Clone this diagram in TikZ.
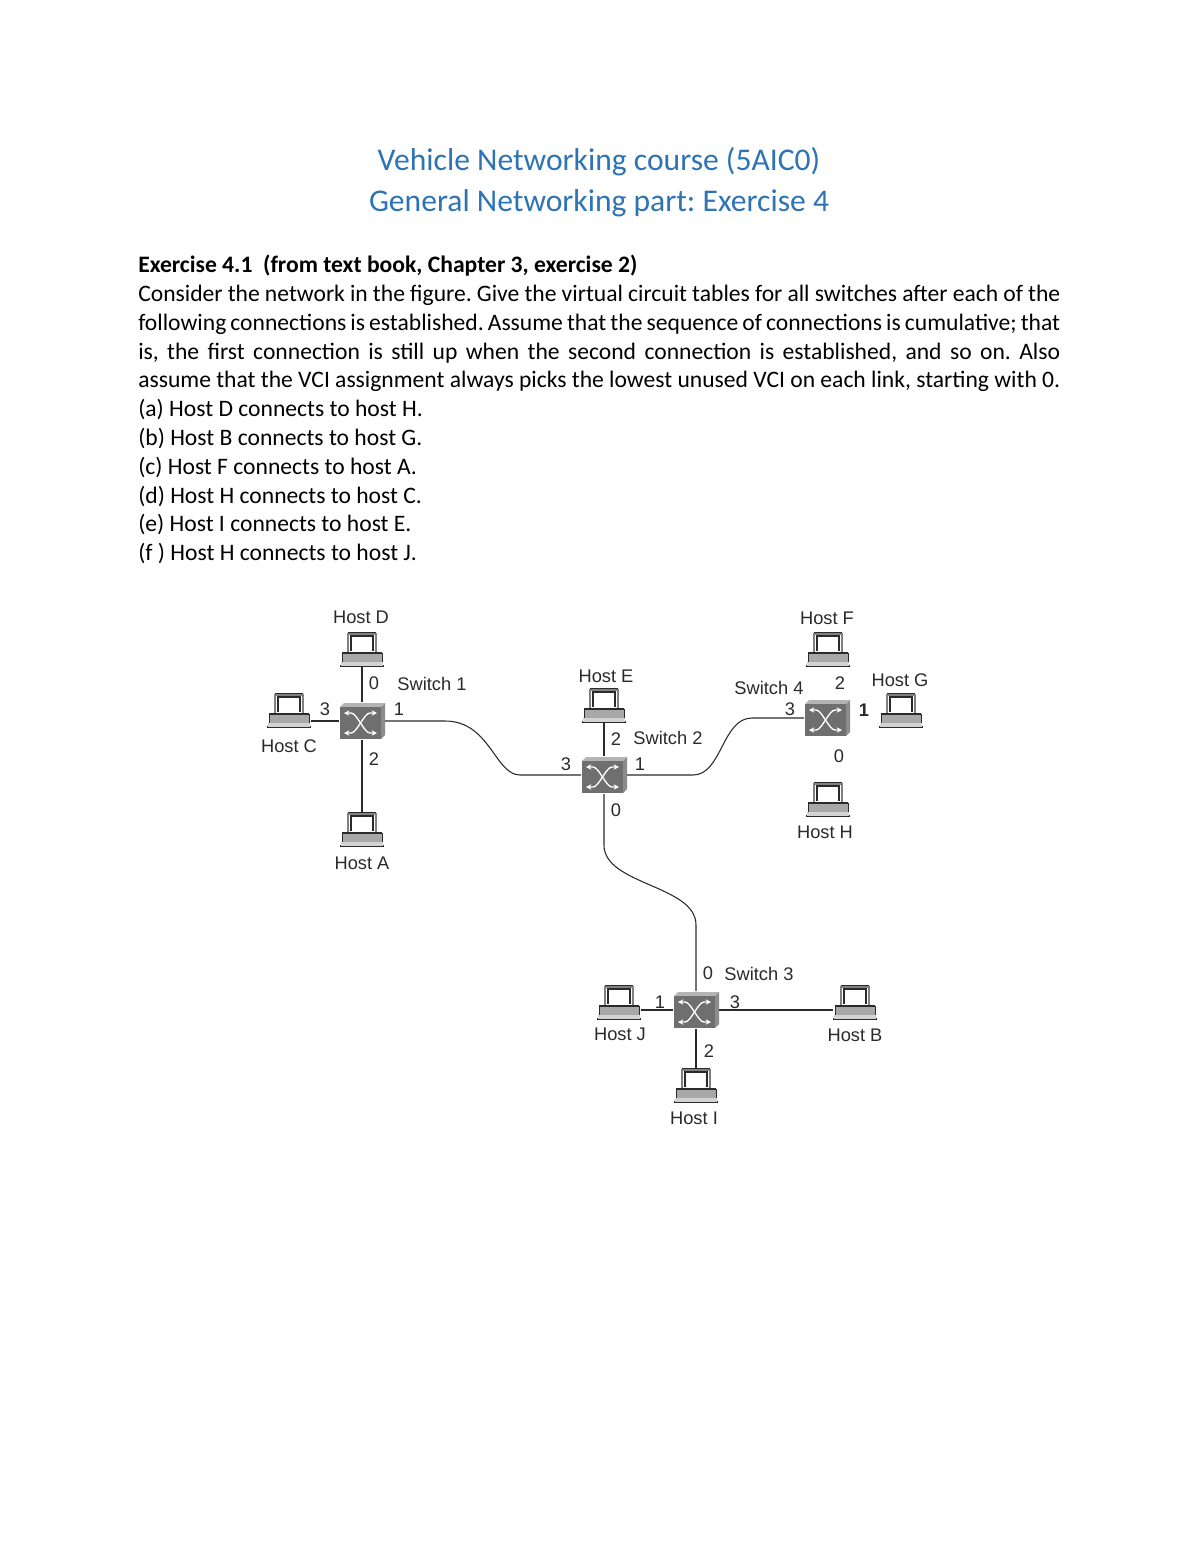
\documentclass[tikz,border=0pt]{standalone}
\usepackage{fontspec}
\setmainfont{Carlito}
\newfontfamily\figfont{Liberation Sans}
\usetikzlibrary{arrows.meta}
\definecolor{titleblue}{HTML}{2E74B5}
\definecolor{figink}{HTML}{2A2A2A}
\definecolor{swfront}{HTML}{6F6F6F}
\definecolor{swtop}{HTML}{B4B4B4}
\definecolor{swside}{HTML}{8C8C8C}
\definecolor{hostbase}{HTML}{A8A8A8}
\frenchspacing
\tikzset{
  x=0.75pt, y=-0.75pt,
  titletext/.style={text=titleblue,font=\fontsize{23.7}{28}\selectfont,inner sep=0pt,anchor=center},
  figlabel/.style={text=figink,font=\figfont\fontsize{13.7}{16}\selectfont,inner sep=0pt,anchor=center},
  link/.style={draw=figink,line width=1.05pt},
  thinlink/.style={draw=figink,line width=0.8pt},
  anchorbox/.style={inner sep=0pt,outer sep=0pt,draw=none,fill=none},
  host/.pic={
    \fill[white] (-13,1) rectangle (13,19);
    \draw[gray,line width=0.8pt] (-14,20) -- (-14,2) -- (14,2) -- (14,20);
    \draw[figink,line width=1.2pt] (-14,0.5) -- (14,0.5);
    \draw[figink,line width=0.9pt] (-11,19) -- (-11,4) -- (11,4) -- (11,19);
    \fill[hostbase,draw=figink,line width=0.7pt] (-20,21) rectangle (20,30);
    \draw[figink,line width=1.3pt] (-20,21) -- (20,21);
    \draw[figink,line width=0.9pt] (-22,34) -- (22,34);
    \fill[hostbase!50] (-21,30) rectangle (21,33.5);
    \node[anchorbox,minimum width=44*0.75pt,minimum height=35*0.75pt] (-n) at (0,17.5) {};
  },
  switchbox/.pic={
    \fill[swtop] (-20,-16) -- (-16,-20) -- (25,-20) -- (21,-16) -- cycle;
    \fill[swside] (21,-16) -- (25,-20) -- (25,12) -- (21,16) -- cycle;
    \fill[swfront] (-20,-16) rectangle (21,16);
    \begin{scope}[white,line width=1pt,{Stealth[length=4pt,width=4pt]}-{Stealth[length=4pt,width=4pt]}]
      \draw (-16,-10) -- (-9,-10) .. controls (-3,-10) and (4,10) .. (10,10) -- (17,10);
      \draw (-16,10) -- (-9,10) .. controls (-3,10) and (4,-10) .. (10,-10) -- (17,-10);
    \end{scope}
    \node[anchorbox,minimum width=46*0.75pt,minimum height=38*0.75pt] (-n) at (2,-2) {};
  }
}
\begin{document}
\begin{tikzpicture}
\useasboundingbox[fill=white] (0,0) rectangle (1200,1553);

\node[titletext] (title1) at (599,162) {Vehicle Networking course (5AIC0)};
\node[titletext] (title2) at (599,203) {General Networking part: Exercise 4};

\node[anchor=north west,inner sep=0pt,text width=691.5pt,align=justify,
      font=\fontsize{17.7}{21.6}\selectfont] (body) at (138,255) {%
\textbf{Exercise 4.1\ \ (from text book, Chapter 3, exercise 2)}\\
\makebox[691.5pt][s]{Consider the network in the figure. Give the virtual circuit tables for all switches after each of the}\\
\makebox[691.5pt][s]{following connections is established. Assume that the sequence of connections is cumulative; that}\\
\makebox[691.5pt][s]{is, the first connection is still up when the second connection is established, and so on. Also}\\
\makebox[691.5pt][s]{assume that the VCI assignment always picks the lowest unused VCI on each link, starting with 0.}\\
(a) Host D connects to host H.\\
(b) Host B connects to host G.\\
(c) Host F connects to host A.\\
(d) Host H connects to host C.\\
(e) Host I connects to host E.\\
(f ) Host H connects to host J.};

% switches
\pic (swA) at (360,723) {switchbox};
\pic (swB) at (602,777) {switchbox};
\pic (swC) at (694,1012) {switchbox};
\pic (swD) at (825,720) {switchbox};

% hosts
\pic (hostD) at (362,632) {host};
\pic (hostC) at (289,693) {host};
\pic (hostA) at (362,812) {host};
\pic (hostE) at (604,688) {host};
\pic (hostF) at (828,632) {host};
\pic (hostG) at (901,693) {host};
\pic (hostH) at (828,782) {host};
\pic (hostJ) at (619,985) {host};
\pic (hostB) at (855,985) {host};
\pic (hostI) at (696,1068) {host};

% bends of the curved links
\coordinate (ab1) at (445,721);
\coordinate (ab2) at (520,775);
\coordinate (bd1) at (693,775);
\coordinate (bd2) at (752,718);
\coordinate (bc1) at (604,845);
\coordinate (bc2) at (696,925);

% connectors
\draw[link] (hostD-n.south) -- (swA-n.north);
\draw[link] (swA-n.south) -- (hostA-n.north);
\draw[link] (hostC-n.east |- swA-n.west) -- (swA-n.west);
\draw[link] (hostE-n.south) -- (swB-n.north);
\draw[link] (hostJ-n.east |- swC-n.west) -- (swC-n.west);
\draw[link] (swC-n.east) -- (hostB-n.west |- swC-n.east);
\draw[link] (swC-n.south) -- (hostI-n.north);
\draw[thinlink] (swA-n.east) -- (ab1) .. controls (490,721) and (495,775) .. (ab2) -- (swB-n.west);
\draw[thinlink] (swB-n.east) -- (bd1) .. controls (722,775) and (722,718) .. (bd2) -- (swD-n.west);
\draw[thinlink] (swB-n.south) -- (bc1) .. controls (604,885) and (696,885) .. (bc2) -- (swC-n.north);

% host labels
\node[figlabel] (lD) at (361,617) {Host D};
\node[figlabel] (lC) at (289,746) {Host C};
\node[figlabel] (lA) at (362,863) {Host A};
\node[figlabel] (lE) at (606,676) {Host E};
\node[figlabel] (lF) at (827,618) {Host F};
\node[figlabel] (lG) at (900,680) {Host G};
\node[figlabel] (lH) at (825,832) {Host H};
\node[figlabel] (lJ) at (620,1034) {Host J};
\node[figlabel] (lB) at (855,1035) {Host B};
\node[figlabel] (lI) at (694,1118) {Host I};
% switch labels
\node[figlabel] (ls1) at (432,684) {Switch 1};
\node[figlabel] (ls2) at (668,738) {Switch 2};
\node[figlabel] (ls3) at (759,974) {Switch 3};
\node[figlabel] (ls4) at (769,688) {Switch 4};
% port labels
\node[figlabel] (p10) at (374,683) {0};
\node[figlabel] (p11) at (399,709) {1};
\node[figlabel] (p12) at (374,759) {2};
\node[figlabel] (p13) at (325,709) {3};
\node[figlabel] (p20) at (616,810) {0};
\node[figlabel] (p21) at (640,764) {1};
\node[figlabel] (p22) at (616,739) {2};
\node[figlabel] (p23) at (566,764) {3};
\node[figlabel] (p30) at (708,973) {0};
\node[figlabel] (p31) at (660,1002) {1};
\node[figlabel] (p32) at (709,1051) {2};
\node[figlabel] (p33) at (735,1002) {3};
\node[figlabel] (p40) at (839,756) {0};
\node[figlabel] (p41) at (864,710) {\bfseries 1};
\node[figlabel] (p42) at (840,683) {2};
\node[figlabel] (p43) at (790,709) {3};
\end{tikzpicture}
\end{document}
